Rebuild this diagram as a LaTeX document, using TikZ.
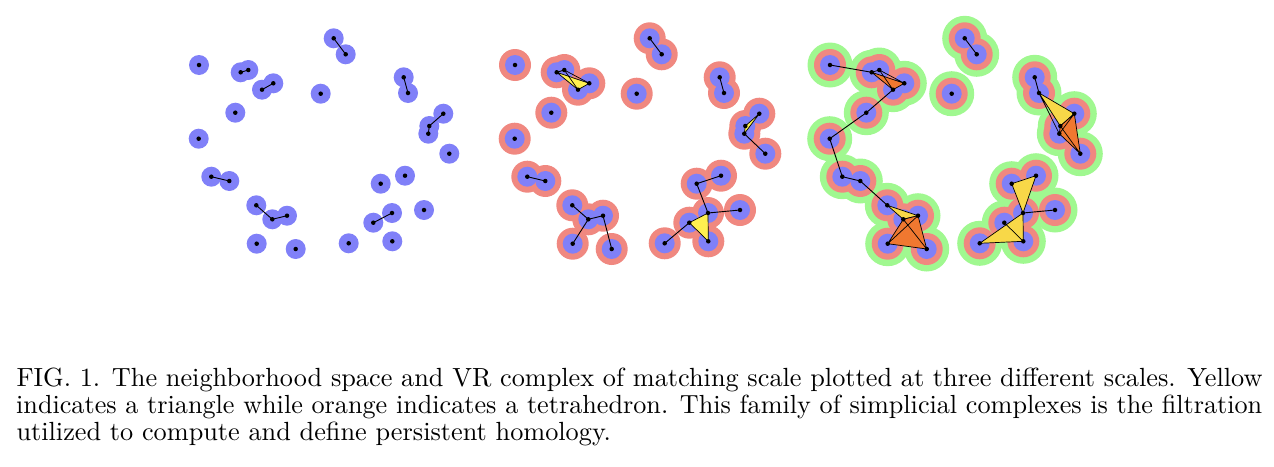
\documentclass[tikz,border=0pt]{standalone}
\newlength\wone
\begin{document}
\settowidth\wone{\normalfont\fontsize{10}{12}\selectfont FIG. 1. The neighborhood space and VR complex of matching scale plotted at three different scales. Yellow}%
\pgfmathsetmacro\sc{1246/\wone}%
\begin{tikzpicture}[x=1pt,y=-1pt,
  edge/.style={black,line width=0.9pt},
  tri/.style={draw=black,line width=0.7pt,line join=round},
  dot/.style={circle,fill=black,inner sep=0pt,minimum size=4.5pt},
  captext/.style={anchor=base west,inner sep=0pt,font=\fontsize{10}{12}\selectfont}]
\useasboundingbox (0,0) rectangle (1274,466);
\definecolor{bl}{HTML}{8080F8}
\definecolor{rd}{HTML}{F08880}
\definecolor{gr}{HTML}{A0F890}
\definecolor{ye}{HTML}{FFF050}
\definecolor{ye2}{HTML}{F8D848}
\definecolor{og}{HTML}{F07830}
\def\pts{1/199/65,2/240.7/72.3,3/248.3/70,4/262/89.7,5/273.3/83.3,6/333.7/38.3,7/345.7/54.3,8/320.7/93.7,9/403.7/77.3,10/408/93,11/235.3/112.7,12/443.3/113.7,13/429.3/126,14/428.3/133.7,15/198.7/138.7,16/449.3/153.7,17/211.3/176.7,18/229.3/181,19/405/175.7,20/380.7/183.7,21/256.3/205.3,22/272.3/219.3,23/287/215.7,24/424/210,25/392/213,26/373.3/222.7,27/256.7/243.7,28/295.7/249,29/348.7/243.3,30/392.3/241.3}
\foreach \i/\x/\y in \pts {
  \coordinate (a\i) at (\x,\y);
  \coordinate (b\i) at (\x+316,\y);
  \coordinate (c\i) at (\x+631,\y);
}
% balls
\foreach \i/\x/\y in \pts { \fill[gr] (c\i) circle (22.5); }
\foreach \i/\x/\y in \pts { \fill[rd] (b\i) circle (16); \fill[rd] (c\i) circle (16); }
\foreach \i/\x/\y in \pts { \fill[bl] (a\i) circle (10); \fill[bl] (b\i) circle (10); \fill[bl] (c\i) circle (10); }
% panel 1
\foreach \u/\v in {2/3,4/5,6/7,9/10,12/13,13/14,17/18,21/22,22/23,26/25}
  \draw[edge] (a\u) -- (a\v);
% panel 2
\fill[ye] (b2) -- (b5) -- (b4) -- cycle;
\draw[tri] (b2) -- (b5) -- (b4) -- cycle;
\draw[tri] (b3) -- (b5) (b3) -- (b4);
\fill[ye] (b12) -- (b13) -- (b14) -- cycle;
\draw[tri] (b12) -- (b13) -- (b14) -- cycle;
\fill[ye] (b26) -- (b25) -- (b30) -- cycle;
\draw[tri] (b26) -- (b25) -- (b30) -- cycle;
\foreach \u/\v in {2/3,6/7,9/10,14/16,17/18,21/22,22/23,22/27,23/28,20/19,20/25,25/24,26/29}
  \draw[edge] (b\u) -- (b\v);
% panel 3
\foreach \u/\v in {1/2,4/11,11/15,15/17,17/18,18/21,6/7,9/10,25/24}
  \draw[edge] (c\u) -- (c\v);
\fill[og] (c2) -- (c5) -- (c4) -- cycle;
\draw[tri] (c2) -- (c5) -- (c4) -- cycle (c3) -- (c4) (c3) -- (c5) (c2) -- (c3);
\fill[ye2] (c21) -- (c23) -- (c22) -- cycle;
\draw[tri] (c21) -- (c23) -- (c22) -- cycle;
\fill[og] (c22) -- (c23) -- (c28) -- (c27) -- cycle;
\draw[tri] (c22) -- (c23) -- (c28) -- (c27) -- cycle (c22) -- (c28) (c23) -- (c27);
\fill[ye2] (c10) -- (c12) -- (c13) -- cycle;
\draw[tri] (c10) -- (c12) -- (c13) -- cycle (c10) -- (c14);
\fill[og] (c12) -- (c16) -- (c14) -- (c13) -- cycle;
\draw[tri] (c12) -- (c16) -- (c14) -- (c13) -- cycle (c12) -- (c14) (c13) -- (c16);
\fill[ye2] (c20) -- (c19) -- (c25) -- cycle;
\draw[tri] (c20) -- (c19) -- (c25) -- cycle;
\fill[ye2] (c29) -- (c25) -- (c30) -- cycle;
\draw[tri] (c29) -- (c25) -- (c30) -- cycle (c26) -- (c30);
% dots
\foreach \i/\x/\y in \pts { \node[dot] (da\i) at (a\i) {}; \node[dot] (db\i) at (b\i) {}; \node[dot] (dc\i) at (c\i) {}; }
% caption
\node[captext,scale=\sc] (l1) at (16,386) {FIG. 1. The neighborhood space and VR complex of matching scale plotted at three different scales. Yellow};
\node[captext] (l2) at (16,413) {\resizebox{1246pt}{!}{indicates a triangle while orange indicates a tetrahedron. This family of simplicial complexes is the filtration}};
\node[captext,scale=\sc] (l3) at (16,440) {utilized to compute and define persistent homology.};
\end{tikzpicture}
\end{document}
